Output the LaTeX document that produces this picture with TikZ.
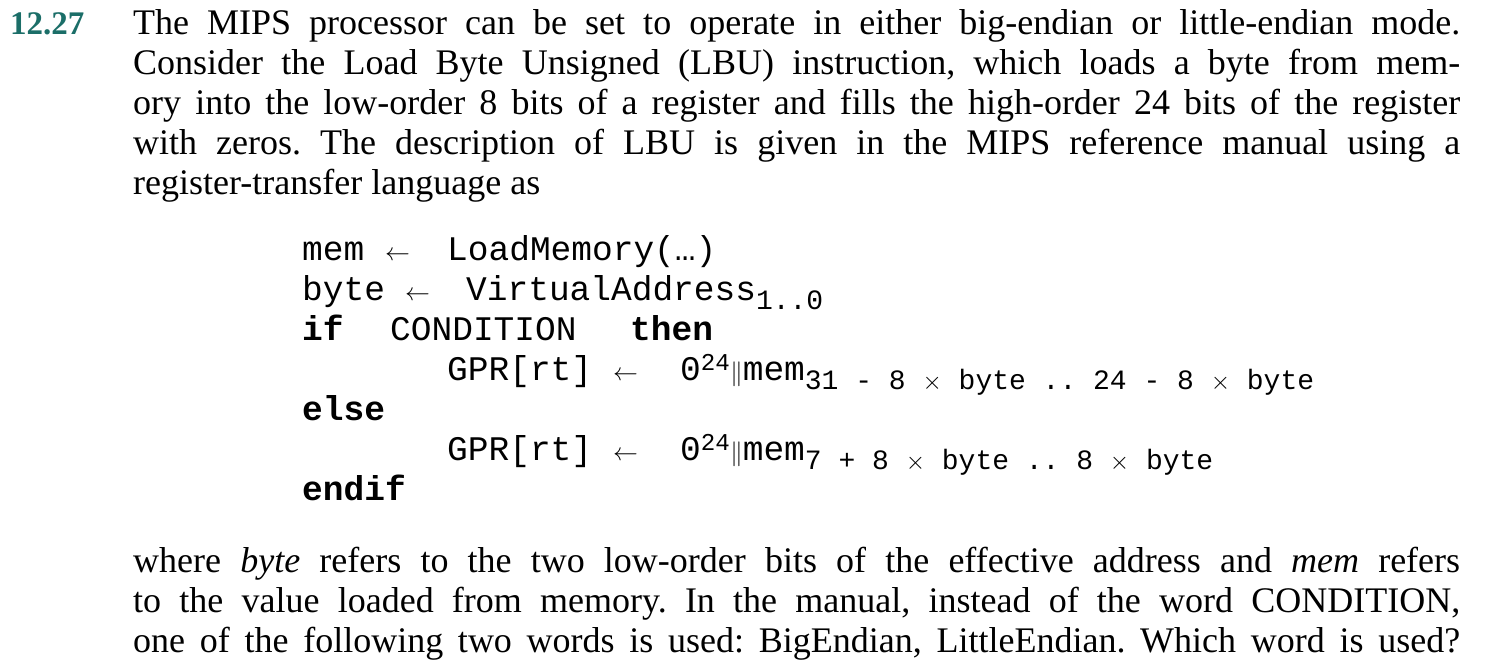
\documentclass[tikz,border=0pt]{standalone}
\usepackage{fontspec}
\setmainfont{Liberation Serif}
\setmonofont{Liberation Mono}
\definecolor{teal1}{HTML}{1B6E68}
\tikzset{ln/.style={anchor=base west,inner sep=0pt,font=\fontsize{36}{40}\selectfont},
 cd/.style={anchor=base west,inner sep=0pt,font=\fontsize{34.5}{40}\ttfamily}}
\newcommand{\sbx}[1]{\raisebox{-9pt}{\fontsize{28}{28}\ttfamily #1}}
\newcommand{\tms}{{\fontsize{50}{50}\rmfamily$\times$}}
\newcommand{\lar}{{\fontsize{46}{46}\selectfont$\leftarrow$}}
\begin{document}
\frenchspacing
\begin{tikzpicture}[x=1pt,y=1pt]
\useasboundingbox (0,0) rectangle (1494,-667);
\node[ln,font=\fontsize{33}{40}\bfseries,text=teal1] (num) at (10,-34) {12.27};
\node[ln] (l1) at (133,-34) {\makebox[1327pt][s]{The MIPS processor can be set to operate in either big-endian or little-endian mode.}};
\node[ln] (l2) at (133,-74) {\makebox[1327pt][s]{Consider the Load Byte Unsigned (LBU) instruction, which loads a byte from mem-}};
\node[ln] (l3) at (133,-114) {\makebox[1327pt][s]{ory into the low-order 8 bits of a register and fills the high-order 24 bits of the register}};
\node[ln] (l4) at (133,-154) {\makebox[1327pt][s]{with zeros. The description of LBU is given in the MIPS reference manual using a}};
\node[ln] (l5) at (133,-194) {register-transfer language as};
\node[cd] (c1) at (302,-260) {mem};
\node[cd] (c1a) at (385,-260) {\lar};
\node[cd] (c1b) at (447,-260) {LoadMemory(\ldots)};
\node[cd] (c2) at (302,-300) {byte};
\node[cd] (c2a) at (405,-300) {\lar};
\node[cd] (c2b) at (466,-300) {VirtualAddress\sbx{1..0}};
\node[cd] (c3) at (302,-340) {\textbf{if}};
\node[cd] (c3a) at (390,-340) {CONDITION};
\node[cd] (c3b) at (630,-340) {\textbf{then}};
\node[cd] (c4) at (447,-380) {GPR[rt]};
\node[cd] (c4a) at (613,-380) {\lar};
\node[cd] (c4b) at (680,-380) {0\textsuperscript{24}$\|$mem\sbx{31 - 8 \tms{} byte .. 24 - 8 \tms{} byte}};
\node[cd] (c5) at (302,-420) {\textbf{else}};
\node[cd] (c6) at (447,-460) {GPR[rt]};
\node[cd] (c6a) at (613,-460) {\lar};
\node[cd] (c6b) at (680,-460) {0\textsuperscript{24}$\|$mem\sbx{7 + 8 \tms{} byte .. 8 \tms{} byte}};
\node[cd] (c7) at (302,-500) {\textbf{endif}};
\node[ln] (b1) at (133,-572) {\makebox[1327pt][s]{where \textit{byte} refers to the two low-order bits of the effective address and \textit{mem} refers}};
\node[ln] (b2) at (133,-612) {\makebox[1327pt][s]{to the value loaded from memory. In the manual, instead of the word CONDITION,}};
\node[ln] (b3) at (133,-652) {\makebox[1327pt][s]{one of the following two words is used: BigEndian, LittleEndian. Which word is used?}};
\end{tikzpicture}
\end{document}
